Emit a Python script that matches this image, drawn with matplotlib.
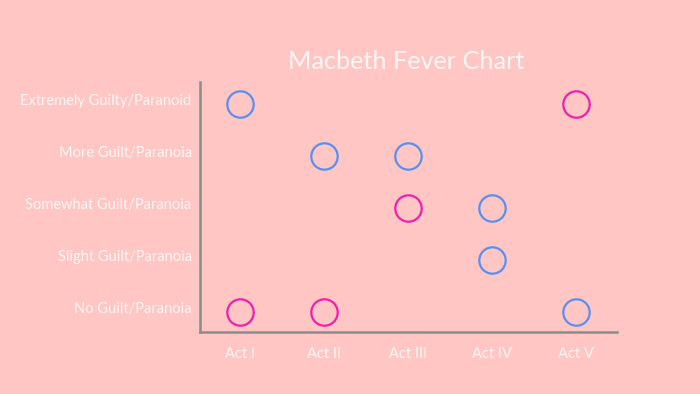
import matplotlib.pyplot as plt
import matplotlib.transforms as mtransforms

acts = ['Act I', 'Act II', 'Act III', 'Act IV', 'Act V']
levels = ['No Guilt/Paranoia', 'Slight Guilt/Paranoia', 'Somewhat Guilt/Paranoia',
          'More Guilt/Paranoia', 'Extremely Guilty/Paranoid']

# blue points (act index, level index)
blue_act = [0, 1, 2, 3, 3, 4]
blue_level = [4, 3, 3, 2, 1, 0]
# magenta points
pink_act = [4, 2, 0, 1]
pink_level = [4, 2, 0, 0]

bg = '#ffc6c3'
txt = '#fff6f6'

plt.rcParams['font.family'] = ['Lato', 'DejaVu Sans']

fig = plt.figure(figsize=(7, 3.94), dpi=100, facecolor=bg)
ax = fig.add_axes([0.2857, 0.1574, 0.5957, 0.6345])
ax.set_facecolor(bg)

ax.plot(blue_act, blue_level, 'o', ls='none', ms=19, mfc='none', mec='#5a8ff0', mew=1.6)
ax.plot(pink_act, pink_level, 'o', ls='none', ms=19, mfc='none', mec='#f01fae', mew=1.6)

ax.set_xlim(-0.476, 4.488)
ax.set_ylim(-0.385, 4.423)

for s in ['top', 'right']:
    ax.spines[s].set_visible(False)
for s in ['left', 'bottom']:
    ax.spines[s].set_color('#8c8c8c')
    ax.spines[s].set_linewidth(1.8)

ax.set_xticks(range(len(acts)))
ax.set_xticklabels(acts, color=txt, fontsize=10.5)
ax.set_yticks(range(len(levels)))
ax.set_yticklabels(levels, color=txt, fontsize=10.5)
ax.tick_params(axis='x', length=0, pad=11)
ax.tick_params(axis='y', length=0, pad=6)

off = mtransforms.ScaledTranslation(0, 4 / 100, fig.dpi_scale_trans)
for lab in ax.get_yticklabels():
    lab.set_transform(lab.get_transform() + off)

fig.text(0.58, 0.845, 'Macbeth Fever Chart', color=txt, fontsize=18.2,
         ha='center', va='center')

fig.savefig('out.png', dpi=100, facecolor=bg)
